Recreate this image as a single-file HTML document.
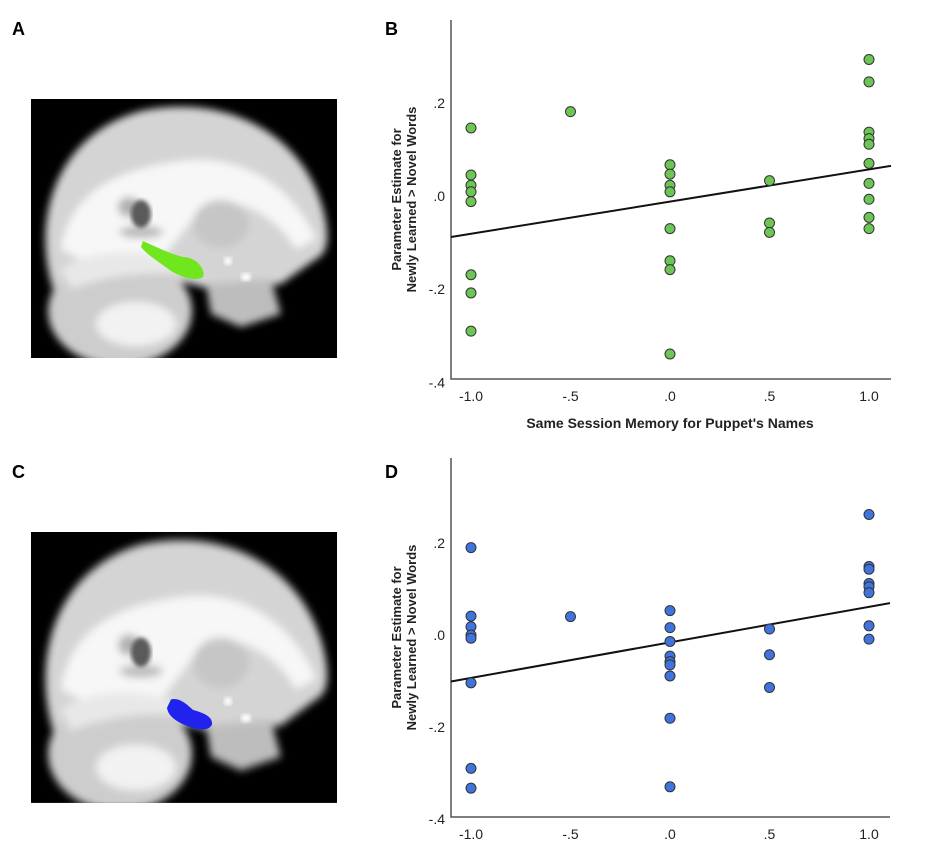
<!DOCTYPE html>
<html><head><meta charset="utf-8"><style>
body{margin:0;background:#fff;font-family:"Liberation Sans",Arial,sans-serif}
svg text{font-family:"Liberation Sans",Arial,sans-serif}
</style></head><body>
<svg id="fig" width="926" height="851" viewBox="0 0 926 851" xmlns="http://www.w3.org/2000/svg">
<defs>
<filter id="blur" x="-20%" y="-20%" width="140%" height="140%"><feGaussianBlur stdDeviation="4"/></filter>
<filter id="blur2"><feGaussianBlur stdDeviation="2"/></filter>
<clipPath id="clipR"><rect x="0" y="0" width="306" height="259"/></clipPath>
<g id="brain">
  <rect x="0" y="0" width="306" height="259" fill="#000"/>
  <g filter="url(#blur)" clip-path="url(#clipR)">
    <path d="M22,190 C0,120 25,35 110,12 C190,-5 270,30 292,110 C300,140 296,155 285,160 L250,185 L180,190 L120,175 C80,180 45,200 22,190 Z" fill="#d4d4d4"/>
    <ellipse cx="89" cy="212" rx="72" ry="55" fill="#cdcdcd"/>
    <ellipse cx="105" cy="225" rx="40" ry="22" fill="#f2f2f2"/>
    <path d="M175,185 L240,180 L250,215 L210,228 L180,215 Z" fill="#bdbdbd"/>
    <path d="M30,150 C40,90 90,70 150,62 C210,55 260,85 285,140 L265,150 C240,110 200,95 170,110 L130,160 L60,165 Z" fill="#f7f7f7"/>
    <path d="M30,170 C60,150 100,150 140,160 L150,175 C110,172 70,178 40,190 Z" fill="#e8e8e8"/>
    <ellipse cx="190" cy="125" rx="28" ry="24" fill="#c6c6c6"/>
    <ellipse cx="98" cy="108" rx="11" ry="10" fill="#b0b0b0"/>
    <ellipse cx="110" cy="133" rx="22" ry="6" fill="#b8b8b8"/>
  </g>
  <ellipse cx="110" cy="115" rx="10" ry="14" fill="#5a5a5a" filter="url(#blur2)"/>
  <ellipse cx="197" cy="162" rx="4" ry="4" fill="#fff" filter="url(#blur2)"/>
  <ellipse cx="215" cy="178" rx="5" ry="4" fill="#fff" filter="url(#blur2)"/>
</g>
</defs>

<text x="12" y="35" font-size="18" font-weight="bold">A</text>
<g transform="translate(31,99)">
  <use href="#brain"/>
  <path d="M112,142 C125,148 140,155 152,158 C165,158 175,170 172,178 C165,183 150,178 140,172 C128,163 115,155 110,148 Z" fill="#6fe61e"/>
</g>

<text x="12" y="478" font-size="18" font-weight="bold">C</text>
<g transform="translate(31,532) scale(1,1.046)">
  <use href="#brain"/>
  <path d="M140,160 C148,158 155,164 162,170 C172,173 182,176 181,184 C178,190 168,190 158,186 C146,182 137,176 136,168 Z" fill="#2222ee"/>
</g>

<text x="385" y="35" font-size="18" font-weight="bold">B</text>
<text x="385" y="478" font-size="18" font-weight="bold">D</text>
<g id="plotB"></g>
<g id="plotD"></g>
</svg>
<script>
const xTicks = [-1, -0.5, 0, 0.5, 1];
const xTickLabels = ["-1.0", "-.5", ".0", ".5", "1.0"];
const yTicks = [0.2, 0, -0.2, -0.4];
const yTickLabels = [".2", ".0", "-.2", "-.4"];
const xB = [-1,-1,-1,-1,-1,-1,-1,-1,-0.5,0,0,0,0,0,0,0,0,0.5,0.5,0.5,1,1,1,1,1,1,1,1,1,1];
const yB = [0.146,0.045,0.023,0.009,-0.012,-0.169,-0.208,-0.29,0.181,0.067,0.047,0.023,0.009,-0.07,-0.139,-0.158,-0.339,0.033,-0.058,-0.078,0.293,0.245,0.137,0.123,0.111,0.07,0.027,-0.007,-0.046,-0.07];
const fitB = [-0.012, 0.069];
const xD = [-1,-1,-1,-1,-1,-1,-1,-1,-0.5,0,0,0,0,0,0,0,0,0,0.5,0.5,0.5,1,1,1,1,1,1,1,1];
const yD = [0.19,0.041,0.018,0,-0.007,-0.104,-0.29,-0.333,0.04,0.053,0.016,-0.014,-0.046,-0.058,-0.065,-0.089,-0.181,-0.33,0.013,-0.043,-0.114,0.262,0.149,0.143,0.112,0.105,0.092,0.02,-0.009];
const fitD = [-0.016, 0.0773];

const NS = "http://www.w3.org/2000/svg";
function mk(parent, tag, attrs){const e=document.createElementNS(NS,tag);for(const k in attrs)e.setAttribute(k,attrs[k]);parent.appendChild(e);return e;}

function drawPlot(gid, xs, ys, fit, cfg){
  const g=document.getElementById(gid);
  
  
  const sx=v=>cfg.x0+v*cfg.xs;
  const sy=v=>cfg.y0-v*cfg.ys;
  const ax=mk(g,'path',{d:`M${cfg.left},${cfg.top} L${cfg.left},${cfg.bottom} L${cfg.right},${cfg.bottom}`,fill:'none',stroke:'#555','stroke-width':1.5});
  
  
  xTicks.forEach((t,i)=>{
    const tx=mk(g,'text',{x:sx(t),y:cfg.bottom+22,'font-size':14,'text-anchor':'middle',fill:'#222'});
    tx.textContent=xTickLabels[i];
    
    
  });
  yTicks.forEach((t,i)=>{
    const tx=mk(g,'text',{x:cfg.left-6,y:sy(t)+5,'font-size':14,'text-anchor':'end',fill:'#222'});
    tx.textContent=yTickLabels[i];
    
    
  });
  const cy=(cfg.top+cfg.bottom)/2;
  const yt=mk(g,'text',{transform:`translate(${cfg.left-48},${cy}) rotate(-90)`,'font-size':13,'font-weight':'bold','text-anchor':'middle',fill:'#222'});
  
  
  const t1=mk(yt,'tspan',{x:0,y:-2}); t1.textContent='Parameter Estimate for';
  const t2=mk(yt,'tspan',{x:0,y:13}); t2.textContent='Newly Learned > Novel Words';
  const x1=(cfg.left-cfg.x0)/cfg.xs, x2=(cfg.right-cfg.x0)/cfg.xs;
  const ln=mk(g,'line',{x1:sx(x1),y1:sy(fit[0]+fit[1]*x1),x2:sx(x2),y2:sy(fit[0]+fit[1]*x2),stroke:'#111','stroke-width':2});
  
  
  xs.forEach((x,i)=>{
    const c=mk(g,'circle',{cx:sx(x),cy:sy(ys[i]),r:5,fill:cfg.color,stroke:'#333','stroke-width':1});
    
    
  });
}
drawPlot('plotB',xB,yB,fitB,{name:'scatter-plot-b',x0:670,xs:199,y0:196,ys:466,left:451,right:891,top:20,bottom:379,color:'#6cc656'});
drawPlot('plotD',xD,yD,fitD,{name:'scatter-plot-d',x0:670,xs:199,y0:635,ys:460,left:451,right:890,top:458,bottom:817,color:'#3f74de'});
const xt=mk(document.getElementById('plotB'),'text',{x:670,y:428,'font-size':14,'font-weight':'bold','text-anchor':'middle',fill:'#222'});
xt.textContent="Same Session Memory for Puppet's Names";


</script>
</body></html>
